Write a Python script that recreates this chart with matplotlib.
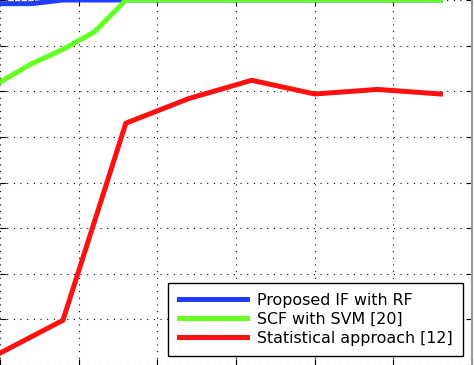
import numpy as np
import matplotlib.pyplot as plt

plt.rcParams['font.family'] = ['DejaVu Sans']

# x positions of the evaluated points
x_red = [0, 4, 8, 12, 16, 20, 24, 28]
y_red = [61.3, 64.9, 86.5, 89.2, 91.2, 89.7, 90.2, 89.7]

x_green = [0, 2, 4, 6, 8, 12, 16, 20, 24, 28]
y_green = [91.0, 93.0, 94.6, 96.5, 100, 100, 100, 100, 100, 100]

x_blue = [0, 2, 4, 8, 12, 16, 20, 24, 28]
y_blue = [99.6, 99.6, 100, 100, 100, 100, 100, 100, 100]

labels = ['Proposed IF with RF', 'SCF with SVM [20]', 'Statistical approach [12]']

fig = plt.figure(figsize=(4.74, 3.65), dpi=100)
ax = fig.add_axes([0, 0, 472 / 474, 1])

ax.plot(x_blue, y_blue, color='#1f3cff', lw=3.6, label=labels[0])
ax.plot(x_green, y_green, color='#66ff22', lw=3.6, label=labels[1])
ax.plot(x_red, y_red, color='#ff1010', lw=3.6, label=labels[2])

ax.set_xlim(0, 30)
ax.set_ylim(60, 100)
ax.set_xticks(np.arange(0, 31, 5))
ax.set_yticks(np.arange(60, 101, 5))
ax.tick_params(direction='in', length=4, labelleft=False, labelbottom=False,
               right=True, top=True)
ax.grid(True, color='black', linestyle=(0, (1, 5)), linewidth=0.8)
for side in ['left', 'bottom', 'top']:
    ax.spines[side].set_visible(False)
ax.spines['right'].set_color('#999999')
ax.spines['right'].set_linewidth(1.5)

leg = ax.legend(loc='lower right', bbox_to_anchor=(463 / 472, 9 / 365), fontsize=11.4,
                fancybox=False, framealpha=1, edgecolor='black',
                handlelength=4.35, borderpad=0.65, labelspacing=0.25,
                handletextpad=0.6, borderaxespad=0)
leg.get_frame().set_linewidth(1.0)

plt.savefig('out.png', dpi=100)
